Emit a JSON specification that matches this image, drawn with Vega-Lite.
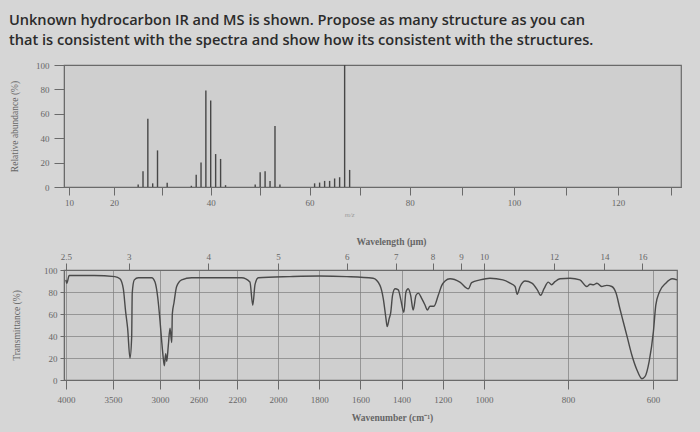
{
  "$schema": "https://vega.github.io/schema/vega-lite/v6.json",
  "background": "#d6d6d6",
  "padding": {"left": 8, "top": 12, "right": 30, "bottom": 30},
  "title": {
    "text": ["Unknown hydrocarbon IR and MS is shown. Propose as many structure as you can", "that is consistent with the spectra and show how its consistent with the structures."],
    "anchor": "start",
    "frame": "bounds",
    "font": "Open Sans",
    "fontSize": 14.6,
    "fontWeight": 600,
    "color": "#2b2b2b",
    "lineHeight": 20,
    "offset": 13
  },
  "spacing": 17,
  "vconcat": [
    {
      "width": 617,
      "height": 122,
      "data": {"values": [
        {"mz": 25, "abundance": 2}, {"mz": 26, "abundance": 13}, {"mz": 27, "abundance": 56},
        {"mz": 28, "abundance": 3}, {"mz": 29, "abundance": 30}, {"mz": 31, "abundance": 3.5},
        {"mz": 36, "abundance": 1}, {"mz": 37, "abundance": 10}, {"mz": 38, "abundance": 20},
        {"mz": 39, "abundance": 79}, {"mz": 40, "abundance": 71}, {"mz": 41, "abundance": 27},
        {"mz": 42, "abundance": 23}, {"mz": 43, "abundance": 1.5},
        {"mz": 49, "abundance": 2}, {"mz": 50, "abundance": 12}, {"mz": 51, "abundance": 13},
        {"mz": 52, "abundance": 5}, {"mz": 53, "abundance": 50}, {"mz": 54, "abundance": 2},
        {"mz": 61, "abundance": 3}, {"mz": 62, "abundance": 3.6}, {"mz": 63, "abundance": 5},
        {"mz": 64, "abundance": 5}, {"mz": 65, "abundance": 7}, {"mz": 66, "abundance": 8},
        {"mz": 67, "abundance": 100}, {"mz": 68, "abundance": 14}
      ]},
      "mark": {"type": "rule", "color": "#474747", "strokeWidth": 1.4},
      "encoding": {
        "x": {
          "field": "mz", "type": "quantitative",
          "scale": {"domain": [8.9, 10, 20, 40, 60, 80, 100, 120, 130, 131.9], "range": [0, 5, 50, 146.7, 245.6, 345.7, 450, 554, 607, 617], "nice": false, "zero": false},
          "axis": {
            "values": [10, 20, 30, 40, 50, 60, 70, 80, 90, 100, 110, 120, 130],
            "labelExpr": "indexof([10, 20, 40, 60, 80, 100, 120], datum.value) >= 0 ? datum.label : ''",
            "title": "m/z", "titleFontStyle": "italic", "titleFontSize": 7, "titleColor": "#9a9a9a",
            "titleX": 285, "titlePadding": 3,
            "grid": false, "tickSize": 8, "labelPadding": 3, "labelFlush": false, "labelOverlap": false
          }
        },
        "y": {
          "field": "abundance", "type": "quantitative",
          "scale": {"domain": [0, 100], "nice": false},
          "axis": {"values": [0, 20, 40, 60, 80, 100], "title": "Relative abundance (%)", "grid": false, "tickSize": 10, "labelPadding": 5, "titlePadding": 16}
        },
        "y2": {"datum": 0}
      }
    },
    {
      "width": 613,
      "height": 110,
      "data": {"values": [
        {"wn": 4000, "T": 91}, {"wn": 3990, "T": 88}, {"wn": 3965, "T": 95}, {"wn": 3700, "T": 95},
        {"wn": 3479, "T": 94}, {"wn": 3426, "T": 92}, {"wn": 3390, "T": 83}, {"wn": 3365, "T": 62},
        {"wn": 3344, "T": 47}, {"wn": 3319, "T": 20}, {"wn": 3301, "T": 39}, {"wn": 3295, "T": 79},
        {"wn": 3273, "T": 91}, {"wn": 3231, "T": 93}, {"wn": 3088, "T": 93}, {"wn": 3053, "T": 89},
        {"wn": 3024, "T": 75}, {"wn": 3000, "T": 54}, {"wn": 2983, "T": 36}, {"wn": 2966, "T": 20},
        {"wn": 2955, "T": 13}, {"wn": 2941, "T": 24}, {"wn": 2930, "T": 17}, {"wn": 2914, "T": 31},
        {"wn": 2896, "T": 47}, {"wn": 2878, "T": 34}, {"wn": 2872, "T": 60}, {"wn": 2855, "T": 70},
        {"wn": 2827, "T": 85}, {"wn": 2775, "T": 91}, {"wn": 2671, "T": 93}, {"wn": 2500, "T": 93},
        {"wn": 2177, "T": 93}, {"wn": 2137, "T": 89}, {"wn": 2123, "T": 68}, {"wn": 2112, "T": 87},
        {"wn": 2096, "T": 93}, {"wn": 1942, "T": 94}, {"wn": 1800, "T": 94.5}, {"wn": 1667, "T": 94},
        {"wn": 1538, "T": 92.5}, {"wn": 1505, "T": 86}, {"wn": 1489, "T": 74}, {"wn": 1476, "T": 56},
        {"wn": 1470, "T": 48.5}, {"wn": 1460, "T": 56}, {"wn": 1453, "T": 61}, {"wn": 1444, "T": 77},
        {"wn": 1432, "T": 83}, {"wn": 1416, "T": 82}, {"wn": 1405, "T": 74}, {"wn": 1389, "T": 61.5},
        {"wn": 1379, "T": 80}, {"wn": 1368, "T": 83}, {"wn": 1356, "T": 77}, {"wn": 1344, "T": 63.6},
        {"wn": 1330, "T": 77}, {"wn": 1319, "T": 79}, {"wn": 1302, "T": 74}, {"wn": 1286, "T": 68},
        {"wn": 1275, "T": 63.6}, {"wn": 1262, "T": 67}, {"wn": 1243, "T": 67}, {"wn": 1222, "T": 77},
        {"wn": 1205, "T": 86}, {"wn": 1189, "T": 90}, {"wn": 1165, "T": 92}, {"wn": 1117, "T": 89},
        {"wn": 1076, "T": 83}, {"wn": 1060, "T": 88.5}, {"wn": 1019, "T": 91}, {"wn": 986, "T": 92.5},
        {"wn": 955, "T": 91}, {"wn": 938, "T": 88}, {"wn": 926, "T": 85}, {"wn": 921, "T": 78},
        {"wn": 914, "T": 85}, {"wn": 902, "T": 90}, {"wn": 886, "T": 88}, {"wn": 873, "T": 82},
        {"wn": 865, "T": 77}, {"wn": 857, "T": 83}, {"wn": 847, "T": 89}, {"wn": 839, "T": 86.6},
        {"wn": 831, "T": 89.4}, {"wn": 819, "T": 92}, {"wn": 795, "T": 92.5}, {"wn": 772, "T": 91},
        {"wn": 756, "T": 85}, {"wn": 748, "T": 87}, {"wn": 740, "T": 86.6}, {"wn": 732, "T": 88},
        {"wn": 721, "T": 85}, {"wn": 709, "T": 86}, {"wn": 697, "T": 85}, {"wn": 687, "T": 79},
        {"wn": 678, "T": 65}, {"wn": 670, "T": 53}, {"wn": 660, "T": 38}, {"wn": 650, "T": 23},
        {"wn": 638, "T": 9.4}, {"wn": 626, "T": 1.2}, {"wn": 619, "T": 3}, {"wn": 609, "T": 17},
        {"wn": 599, "T": 44}, {"wn": 593, "T": 68}, {"wn": 584, "T": 80}, {"wn": 568, "T": 88},
        {"wn": 552, "T": 92}, {"wn": 540, "T": 91}
      ]},
      "layer": [
        {
          "mark": {"type": "line", "color": "#4a4a4a", "strokeWidth": 1.4, "interpolate": "monotone"},
          "encoding": {
            "x": {
              "field": "wn", "type": "quantitative",
              "scale": {"domain": [4020, 3000, 2200, 2000, 1000, 800, 600, 540], "range": [0, 96, 173, 214, 420, 504, 589, 613], "nice": false, "zero": false},
              "axis": {
                "orient": "bottom",
                "values": [4000, 3500, 3000, 2600, 2200, 2000, 1800, 1600, 1400, 1200, 1000, 800, 600],
                "format": "d",
                "title": "Wavenumber (cm⁻¹)", "titleFontWeight": "bold", "titleX": 328, "titlePadding": 8,
                "grid": true, "tickSize": 9, "labelPadding": 6, "labelFlush": false, "labelOverlap": false
              }
            },
            "y": {
              "field": "T", "type": "quantitative",
              "scale": {"domain": [0, 100], "nice": false},
              "axis": {"values": [0, 20, 40, 60, 80, 100], "title": "Transmittance (%)", "grid": true, "tickSize": 4, "labelPadding": 3, "titlePadding": 22}
            },
            "order": {"field": "wn", "sort": "descending"}
          }
        },
        {
          "mark": {"type": "line", "opacity": 0},
          "encoding": {
            "x": {
              "field": "wn", "type": "quantitative",
              "axis": {
                "orient": "top",
                "values": [4000, 3333.33, 2500, 2000, 1666.67, 1428.57, 1250, 1111.11, 1000, 833.33, 714.29, 625],
                "labelExpr": "format(10000 / datum.value, '.2~r')",
                "title": "Wavelength (μm)", "titleFontWeight": "bold", "titleX": 327, "titlePadding": 6,
                "grid": false, "tickSize": 7, "labelPadding": 2, "labelFlush": false, "labelOverlap": false
              }
            },
            "y": {"field": "T", "type": "quantitative", "axis": null},
            "order": {"field": "wn", "sort": "descending"}
          }
        }
      ],
      "resolve": {"axis": {"x": "independent", "y": "independent"}}
    }
  ],
  "config": {
    "view": {"stroke": "#6a6a6a", "strokeWidth": 1.2, "fill": "#cfcfcf"},
    "axis": {
      "labelFont": "Liberation Serif", "labelFontSize": 9, "labelColor": "#666666",
      "titleFont": "Liberation Serif", "titleFontSize": 9.5, "titleColor": "#666666", "titleFontWeight": "normal",
      "domainColor": "#6a6a6a", "tickColor": "#6a6a6a", "gridColor": "#7d7d7d", "gridOpacity": 0.7, "gridWidth": 1
    }
  }
}
